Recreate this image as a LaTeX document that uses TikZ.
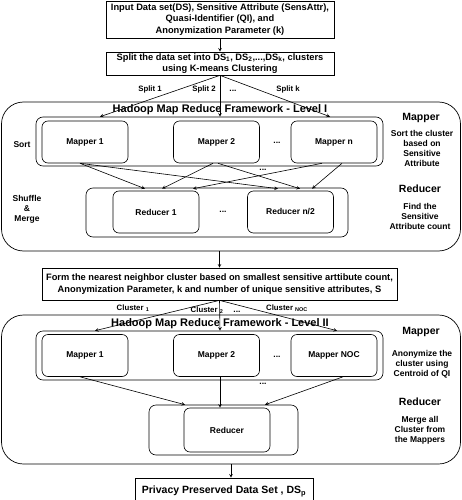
\documentclass[tikz,border=0pt]{standalone}
\usepackage{fontspec}
\setmainfont{Liberation Sans}
\usetikzlibrary{positioning,calc}
\tikzset{>=stealth}
\tikzset{
  stepbox/.style={draw, line width=0.7pt, inner sep=0pt, align=center,
    font=\fontsize{9.3}{11.5}\selectfont\bfseries},
  unit/.style={draw, line width=0.6pt, rounded corners=6pt, minimum width=86pt,
    minimum height=42pt, font=\fontsize{8.5}{10}\selectfont\bfseries},
  grp/.style={draw, line width=0.6pt, rounded corners=7pt, inner sep=0pt},
  frame/.style={draw, line width=0.7pt, rounded corners=22pt, inner sep=0pt},
  lbl/.style={align=center, font=\fontsize{8.5}{10}\selectfont\bfseries},
  tag/.style={font=\fontsize{7.8}{9}\selectfont\bfseries},
  head/.style={font=\fontsize{10.5}{12}\selectfont\bfseries},
  ttl/.style={font=\fontsize{11}{13}\selectfont\bfseries},
  arr/.style={->, line width=0.6pt},
}

\begin{document}
\begin{tikzpicture}[x=1pt,y=-1pt]
\useasboundingbox (0,0) rectangle (462,500);

% input and split
\node[stepbox, minimum width=228pt, minimum height=37pt] (input) at (220,19.5)
  {Input Data set(DS), Sensitive Attribute (SensAttr),\\Quasi-Identifier (QI), and\\Anonymization Parameter (k)};
\node[stepbox, minimum width=228pt, minimum height=23pt] (split) at (220,63.5)
  {Split the data set into DS\textsubscript{1}, DS\textsubscript{2},...,DS\textsubscript{k}, clusters\\using K-means Clustering};

% level I
\node[frame, minimum width=459pt, minimum height=149pt] (lvlA) at (231,176.5) {};
\node[ttl] (ttlA) at (220,110) {Hadoop Map Reduce Framework - Level I};
\node[grp, minimum width=347pt, minimum height=49pt] (mapgrpA) at (209.5,141.5) {};
\node[unit] (mapA1) at (85,142) {Mapper 1};
\node[unit] (mapA2) at (216.5,142) {Mapper 2};
\node[unit] (mapAn) at (334,142) {Mapper n};
\node[lbl] (dotsA1) at (277,143) {...};
\node[grp, minimum width=262pt, minimum height=49pt] (redgrpA) at (217,212.5) {};
\node[unit] (redA1) at (156,212) {Reducer 1};
\node[unit] (redAn) at (290.5,212) {Reducer n/2};
\node[lbl] (dotsA2) at (223,212) {...};
\node[lbl] (dotsA3) at (263,170) {...};

\node[lbl] (sort) at (22,145) {Sort};
\node[lbl] (shuffle) at (27,209) {Shuffle\\\&\\Merge};
\node[head] (mapheadA) at (421,118) {Mapper};
\node[lbl] (maptxtA) at (422,148) {Sort the cluster\\based on\\Sensitive\\Attribute};
\node[head] (redheadA) at (420,189) {Reducer};
\node[lbl] (redtxtA) at (420,216.5) {Find the\\Sensitive\\Attribute count};

% split arrows
\draw[arr] (input) -- (split);
\draw[arr] (split.south) -- ([xshift=-109.5pt]mapgrpA.north);
\draw[arr] (split.south) -- ([xshift=10.5pt]mapgrpA.north);
\draw[arr] (split.south) -- ([xshift=120.5pt]mapgrpA.north);
\node[tag] (splt1) at (150,89) {Split 1};
\node[tag] (splt2) at (204,89) {Split 2};
\node[lbl] (spltd) at (233,91) {...};
\node[tag] (spltk) at (288,89) {Split k};

% shuffle
\draw[arr] ([xshift=-5pt]mapA1.south) -- ([xshift=-72pt,yshift=-1pt]redgrpA.north);
\draw[arr] ([xshift=-5pt]mapA1.south) -- ([xshift=61pt,yshift=-1pt]redgrpA.north);
\draw[arr] ([xshift=-3.5pt]mapA2.south) -- ([xshift=-55pt,yshift=-1pt]redgrpA.north);
\draw[arr] ([xshift=1.5pt]mapA2.south) -- ([xshift=83pt,yshift=-1pt]redgrpA.north);
\draw[arr] ([xshift=-12pt]mapAn.south) -- ([xshift=-24pt,yshift=-1pt]redgrpA.north);
\draw[arr] ([xshift=8pt]mapAn.south) -- ([xshift=95pt,yshift=-1pt]redgrpA.north);

% nearest neighbour
\node[stepbox, minimum width=355pt, minimum height=32pt] (form) at (219.5,284)
  {Form the nearest neighbor cluster based on smallest sensitive arttibute count,\\Anonymization Parameter, k and number of unique sensitive attributes, S};
\draw[arr] (lvlA.south -| form.north) -- (form.north);

% level II
\node[frame, minimum width=459pt, minimum height=149pt] (lvlB) at (231,389.5) {};
\node[ttl] (ttlB) at (220,324) {Hadoop Map Reduce Framework - Level II};
\node[grp, minimum width=347pt, minimum height=49pt] (mapgrpB) at (209.5,355.5) {};
\node[unit] (mapB1) at (85,355.5) {Mapper 1};
\node[unit] (mapB2) at (216.5,355.5) {Mapper 2};
\node[unit] (mapBn) at (334,355.5) {Mapper NOC};
\node[lbl] (dotsB1) at (277,357) {...};
\node[grp, minimum width=149pt, minimum height=50pt] (redgrpB) at (223.5,430) {};
\node[unit, minimum height=44pt] (redB) at (227,430) {Reducer};
\node[lbl] (dotsB2) at (263,384) {...};

\node[head] (mapheadB) at (421,332) {Mapper};
\node[lbl] (maptxtB) at (422,364) {Anonymize the\\cluster using\\Centroid of QI};
\node[head] (redheadB) at (420,402) {Reducer};
\node[lbl] (redtxtB) at (420,430) {Merge all\\Cluster from\\the Mappers};

% cluster arrows
\draw[arr] (form.south) -- ([xshift=-114.5pt]mapgrpB.north);
\draw[arr] (form.south) -- ([xshift=10.5pt]mapgrpB.north);
\draw[arr] (form.south) -- ([xshift=127.5pt]mapgrpB.north);
\node[tag] (clus1) at (133,308) {Cluster \textsubscript{1}};
\node[tag] (clus2) at (207,310) {Cluster \textsubscript{2}};
\node[lbl] (clusd) at (237,312) {...};
\node[tag] (clusn) at (287,308) {Cluster \textsubscript{NOC}};

% merge
\draw[arr] ([xshift=-5pt]mapB1.south) -- ([xshift=-38.5pt]redgrpB.north);
\draw[arr] ([xshift=3.5pt]mapB2.south) -- ([xshift=3.5pt]mapB2.south |- redB.north);
\draw[arr] ([xshift=9pt]mapBn.south) -- ([xshift=41.5pt]redgrpB.north);

% output
\node[stepbox, minimum width=178pt, minimum height=28pt, font=\fontsize{10.5}{12}\selectfont\bfseries] (final) at (224,492)
  {\raisebox{4pt}{Privacy Preserved Data Set , DS\textsubscript{p}}};
\draw[arr] (lvlB.south) -- (lvlB.south |- final.north);
\end{tikzpicture}
\end{document}
